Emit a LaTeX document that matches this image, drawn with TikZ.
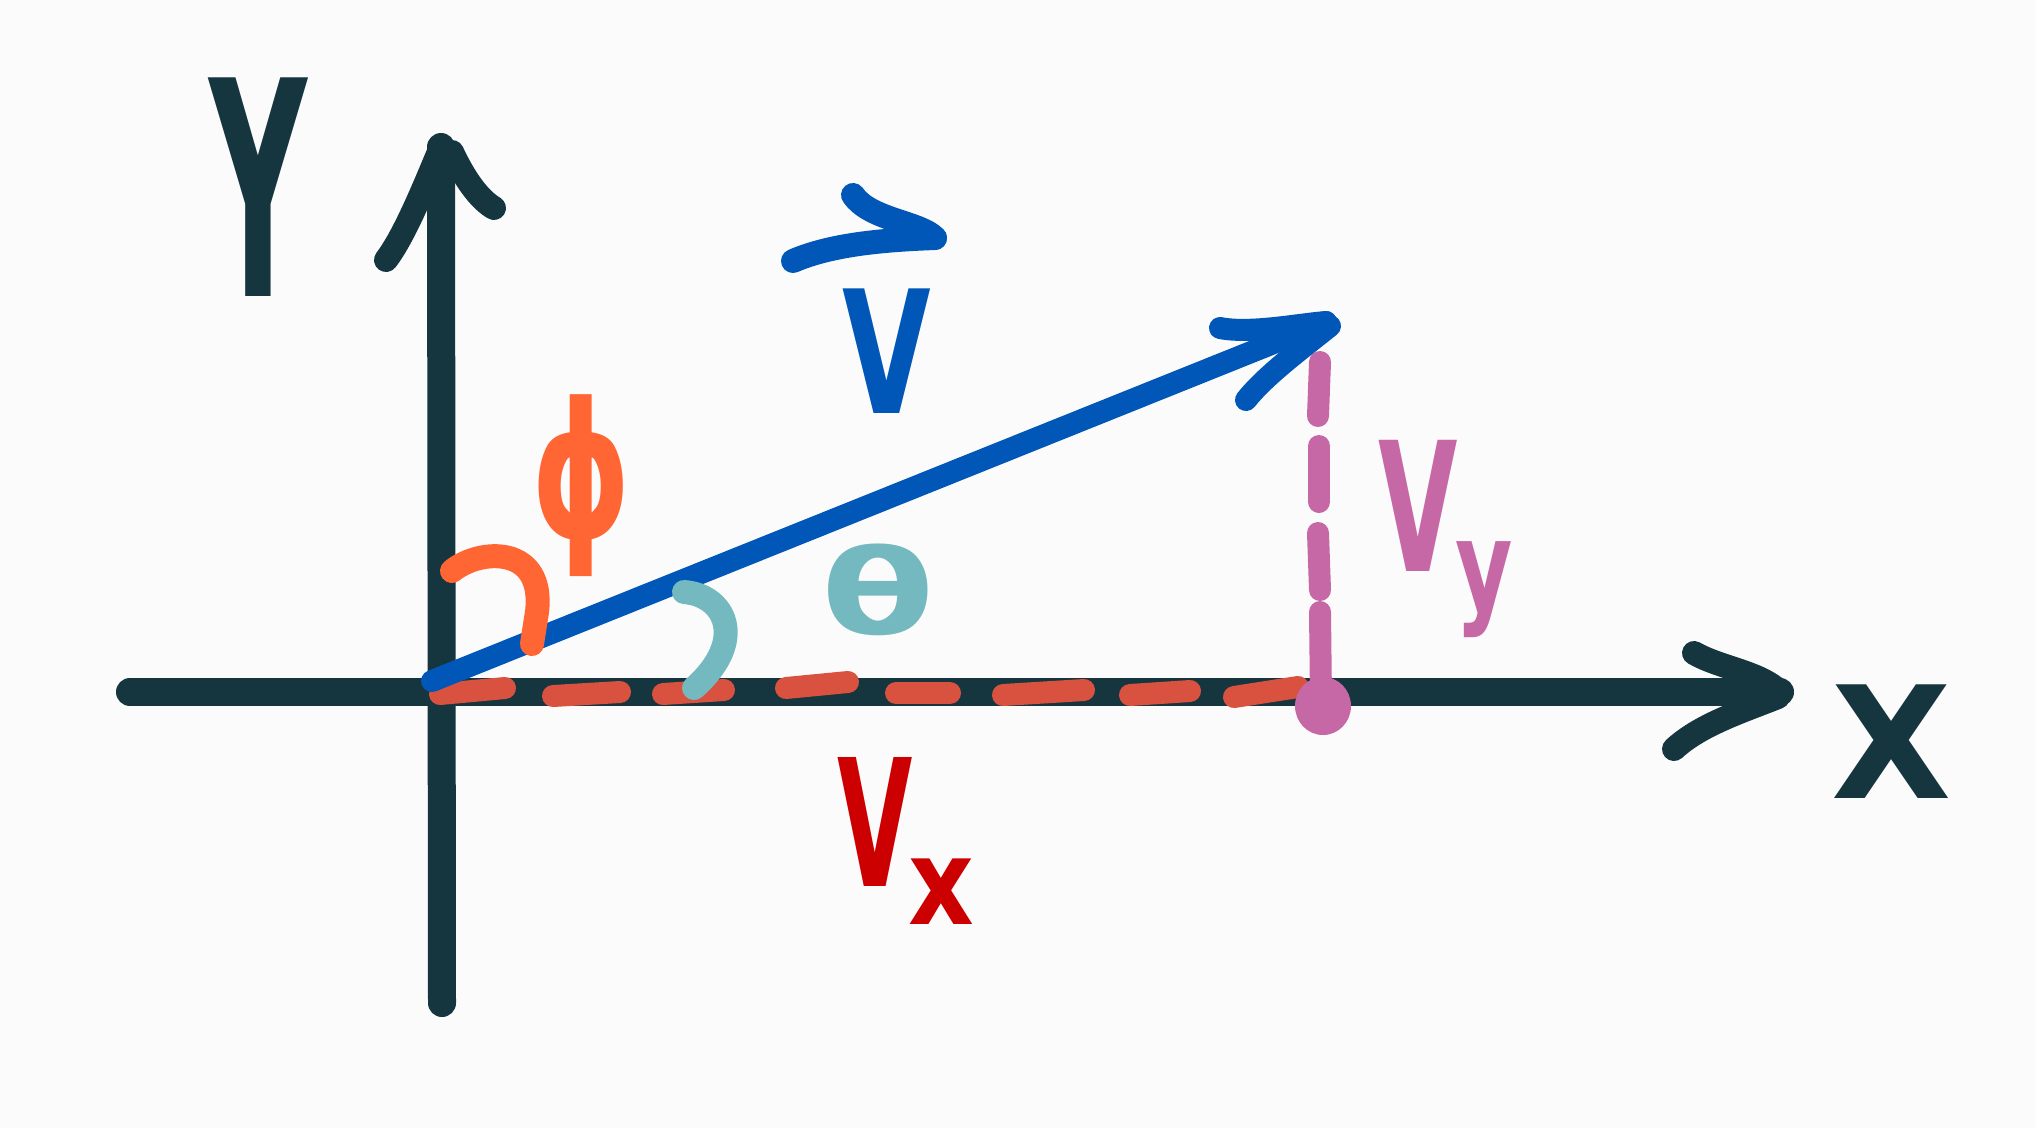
\documentclass[tikz,border=0pt]{standalone}
\usepackage{fontspec}
\setmainfont{DejaVu Sans}
\usepackage{graphicx}
\definecolor{bgc}{HTML}{FCFBFC}
\definecolor{axisc}{HTML}{15353F}
\definecolor{bluec}{HTML}{0057B7}
\definecolor{dashred}{HTML}{D9523F}
\definecolor{pinkc}{HTML}{C768A6}
\definecolor{orangec}{HTML}{FF6633}
\definecolor{tealc}{HTML}{74B9BF}
\definecolor{redc}{HTML}{CC0000}
\newcommand{\fsz}[1]{\fontsize{#1}{#1}\selectfont\bfseries}
\begin{document}
\begin{tikzpicture}[x=1pt,y=-1pt,line cap=round,line join=round,
  axisline/.style={draw=axisc,line width=28},
  vecline/.style={draw=bluec,line width=22},
  xdash/.style={draw=dashred,line width=22},
  ydash/.style={draw=pinkc,line width=22},
  anglearc/.style={line width=24},
  lbl/.style={inner sep=0pt,outer sep=0pt}]
\fill[bgc] (0,0) rectangle (2035,1128);
\useasboundingbox (0,0) rectangle (2035,1128);
% coordinates
\coordinate (xl) at (130,692);
\coordinate (xr) at (1780,692);
\coordinate (yb) at (442,1003);
\coordinate (yt) at (441,147);
\coordinate (O) at (432,681);
\coordinate (P) at (1326,322);
% axes
\draw[axisline] (xl) -- (xr);
\draw[axisline] (yb) -- (yt);
\coordinate (xa1) at (1694,653);
\coordinate (xa2) at (1674,749);
\draw[axisline,line width=24] (xa1) .. controls (1720,668) and (1760,672) .. (xr);
\draw[axisline,line width=24] (xa2) .. controls (1700,725) and (1740,712) .. (1778,697);
\coordinate (ya1) at (386,260);
\coordinate (ya2) at (494,208);
\draw[axisline,line width=24] (ya1) .. controls (405,235) and (425,185) .. (yt);
\draw[axisline,line width=24] (452,152) .. controls (465,180) and (480,200) .. (ya2);
% red dashes (Vx)
\draw[xdash] (440,694) -- (505,688);
\draw[xdash] (553,696) -- (620,692);
\draw[xdash] (663,694) -- (724,690);
\draw[xdash] (786,688) -- (848,682);
\draw[xdash] (896,693) -- (950,693);
\draw[xdash] (1003,695) -- (1084,690);
\draw[xdash] (1130,695) -- (1190,691);
\draw[xdash] (1234,697) -- (1298,687);
% pink dashes (Vy)
\draw[ydash] (1320,362) -- (1318,416);
\draw[ydash] (1319,446) -- (1319,502);
\draw[ydash] (1318,533) -- (1320,590);
\draw[ydash] (1320,612) -- (1321,700);
\fill[pinkc] (1323,706) ellipse (28 and 29);
% vector
\draw[vecline] (O) -- (P);
\coordinate (va1) at (1220,328);
\coordinate (va2) at (1246,400);
\draw[vecline] (va1) .. controls (1250,334) and (1300,324) .. (P);
\draw[vecline] (va2) .. controls (1265,376) and (1300,350) .. (1330,326);
% angle arcs
\draw[orangec,anglearc] (452,571) .. controls (480,548) and (545,545) .. (537,612) -- (532,644);
\draw[tealc,anglearc] (684,592) .. controls (725,595) and (748,640) .. (694,688);
% labels
\node[lbl,text=axisc,anchor=base] (ylab) at (258,296) {\fsz{300}\scalebox{0.45}[1]{Y}};
\node[lbl,text=axisc,anchor=base] (xlab) at (1892,798) {\fsz{156}X};
\node[lbl,text=bluec,anchor=base] (vlab) at (887,413) {\fsz{171}\scalebox{0.67}[1]{V}};
\coordinate (vt1) at (793,261);
\coordinate (vt2) at (935,238);
\draw[vecline,line width=24] (vt1) .. controls (830,245) and (880,240) .. (vt2);
\draw[vecline,line width=24] (853,195) .. controls (870,220) and (920,222) .. (vt2);
\node[lbl,text=redc,anchor=base west] (vxlab) at (837,886) {\fsz{177}\scalebox{0.55}[1]{V}\kern-4pt\raisebox{-38pt}{\fsz{120}\scalebox{0.85}[1]{x}}};
\node[lbl,text=pinkc,anchor=base west] (vylab) at (1378,571) {\fsz{180}\scalebox{0.57}[1]{V}\kern-2pt\raisebox{-39pt}{\fsz{126}\scalebox{0.7}[1]{y}}};
\node[lbl,text=orangec] (philab) at (582,486) {\fsz{188}\scalebox{0.67}[1]{ϕ}};
\node[lbl,text=tealc] (thetalab) at (878,590) {\fsz{118}\scalebox{1.4}[1]{θ}};
\end{tikzpicture}
\end{document}
